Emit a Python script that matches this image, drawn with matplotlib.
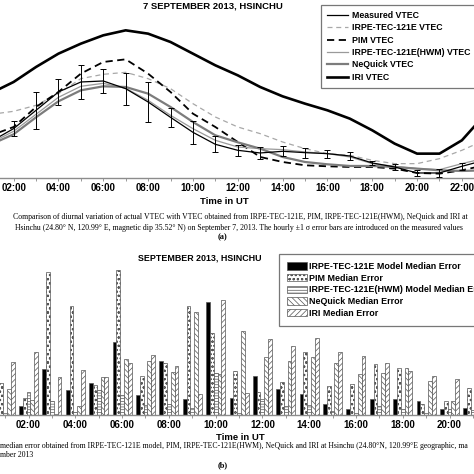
import numpy as np
import matplotlib
matplotlib.use("Agg")
import matplotlib.pyplot as plt
from matplotlib.patches import Patch
from matplotlib.ticker import FixedLocator

plt.rcParams['font.family'] = ['Liberation Sans', 'DejaVu Sans']
plt.rcParams['hatch.linewidth'] = 0.5

# ---- panel (a): diurnal VTEC, 7 September 2013 (TECU) ----
hours = np.arange(0, 25)
measured = [16.8, 16.1, 19.9, 25.4, 30.9, 33.9, 34.2, 31.9, 27.9, 23.3, 18.8, 15.2, 13.4,
            12.6, 13.1, 12.7, 12.4, 11.7, 9.6, 8.4, 6.6, 6.6, 8.6, 10.4, 12.8]
measured_err = [1.5, 1.5, 2.3, 5.5, 3.8, 5.0, 3.5, 4.8, 6.0, 2.8, 3.5, 2.4, 1.7,
                1.9, 1.5, 1.5, 1.2, 1.1, 0.6, 0.9, 0.9, 1.2, 1.1, 1.5, 1.5]
irpe = [24.0, 24.2, 25.1, 26.9, 30.4, 34.9, 36.2, 36.8, 34.9, 31.9, 27.4, 23.4, 20.4,
        18.4, 15.9, 13.9, 12.4, 11.9, 10.4, 9.4, 9.4, 10.9, 13.4, 16.4, 20.0]
pim = [17.5, 17.9, 20.4, 26.4, 30.9, 36.4, 39.9, 40.7, 36.4, 30.9, 24.4, 20.4, 15.9,
       11.4, 9.9, 8.9, 8.6, 8.4, 8.4, 7.9, 6.6, 6.4, 7.4, 8.9, 11.0]
hwm = [16.0, 15.7, 19.1, 24.2, 29.3, 32.6, 33.5, 32.0, 28.4, 23.9, 19.9, 16.4, 14.4,
       13.9, 13.6, 12.9, 12.4, 11.4, 9.4, 8.6, 7.9, 7.6, 9.4, 11.0, 12.8]
nequick = [15.0, 15.2, 18.2, 23.3, 28.1, 31.4, 32.6, 32.4, 30.4, 26.4, 21.9, 17.9, 15.8,
           13.9, 11.4, 9.9, 9.2, 8.7, 8.7, 8.4, 7.9, 7.4, 7.2, 7.4, 8.0]
iri = [29.5, 30.6, 33.9, 38.4, 42.4, 45.4, 47.9, 49.4, 48.4, 45.9, 42.4, 38.9, 35.9,
       32.4, 29.6, 27.4, 25.4, 22.9, 19.4, 15.4, 12.4, 12.4, 16.4, 23.9, 28.4]

# ---- panel (b): median error, September 2013 ----
err_hours = np.arange(1, 22)
err_irpe = [1.0, 0.9, 4.6, 2.5, 3.2, 7.3, 2.0, 5.4, 1.6, 11.3, 1.7, 3.9, 2.6, 2.1,
            1.1, 0.6, 1.6, 1.6, 1.4, 0.6, 0.7]
err_pim = [3.2, 1.7, 14.3, 10.9, 3.0, 14.5, 3.9, 5.2, 10.9, 8.2, 4.4, 2.3, 3.3, 6.3,
           2.9, 3.1, 5.1, 4.7, 1.1, 1.4, 2.7]
err_hwm = [0.2, 2.3, 1.4, 0.3, 2.5, 2.0, 1.0, 1.1, 0.7, 4.2, 0.2, 1.6, 0.9, 1.0,
           0.4, 0.2, 0.9, 0.6, 0.2, 0.6, 0.5]
err_nequick = [2.6, 1.5, 0.1, 0.9, 3.8, 5.6, 5.4, 4.3, 10.3, 4.1, 8.4, 5.8, 5.4, 5.8,
               5.2, 4.1, 4.2, 4.7, 3.4, 1.4, 2.0]
err_iri = [5.3, 6.3, 3.8, 4.5, 3.8, 5.2, 6.0, 4.9, 2.1, 11.5, 2.2, 7.6, 6.9, 7.7,
           6.3, 5.9, 5.2, 4.4, 3.9, 3.6, 3.0]


def fx(px):
    return px / 474.0


def fy(py):
    return 1 - py / 474.0


def hour_label(h):
    return "%02d:00" % h


fig = plt.figure(figsize=(4.74, 4.74), dpi=100)

# ---------------- top panel ----------------
ax1 = fig.add_axes([0, fy(178.3), 1, 178.3 / 474])
ax1.plot(hours, iri, color='black', lw=1.9, label='IRI VTEC', zorder=3)
ax1.plot(hours, irpe, color='#a8a8a8', lw=0.9, ls=(0, (4, 3)), label='IRPE-TEC-121E VTEC')
ax1.plot(hours, pim, color='black', lw=1.3, ls=(0, (4, 2.5)), label='PIM VTEC')
ax1.plot(hours, hwm, color='#9a9a9a', lw=0.9, label='IRPE-TEC-121E(HWM) VTEC')
ax1.plot(hours, nequick, color='#7c7c7c', lw=1.6, label='NeQuick VTEC')
ax1.plot(hours, measured, color='black', lw=0.9, label='Measured VTEC', zorder=4)
ax1.errorbar(hours, measured, yerr=measured_err, fmt='none', ecolor='black',
             elinewidth=0.7, capsize=2.2, capthick=0.7, zorder=4)
ax1.set_xlim(1.393, 22.54)
ax1.set_ylim(5, 58.5)

ax1.xaxis.set_major_locator(FixedLocator(range(2, 23, 2)))
ax1.xaxis.set_minor_locator(FixedLocator(range(1, 24)))
ax1.set_xticklabels([hour_label(h) for h in range(2, 23, 2)], fontsize=7, fontweight='bold')
ax1.tick_params(axis='x', which='both', direction='out', length=2, width=0.6,
                color='#888888', pad=1.5)
ax1.set_yticks([])
for s in ['top', 'left', 'right']:
    ax1.spines[s].set_visible(False)
ax1.spines['bottom'].set_color('#8c8c8c')
ax1.spines['bottom'].set_linewidth(1.0)

h, l = ax1.get_legend_handles_labels()
order = ['Measured VTEC', 'IRPE-TEC-121E VTEC', 'PIM VTEC', 'IRPE-TEC-121E(HWM) VTEC',
         'NeQuick VTEC', 'IRI VTEC']
hh = [h[l.index(o)] for o in order]
leg1 = ax1.legend(hh, order, loc='upper left', bbox_to_anchor=(fx(321), fy(5)),
                  bbox_transform=fig.transFigure, borderaxespad=0,
                  prop={'size': 6.3, 'weight': 'bold'}, handlelength=2.4,
                  handletextpad=0.4, labelspacing=0.38, borderpad=0.7,
                  fancybox=False, framealpha=1)
leg1.get_frame().set_edgecolor('#777777')
leg1.get_frame().set_linewidth(0.9)

fig.text(fx(213), fy(5.5), '7 SEPTEMBER 2013, HSINCHU', ha='center', va='center',
         fontsize=6.8, fontweight='bold')
fig.text(fx(224), fy(201.7), 'Time in UT', ha='center', va='center',
         fontsize=6.8, fontweight='bold')

cap_a1 = ("Comparison of diurnal variation of actual VTEC with VTEC obtained from "
          "IRPE-TEC-121E, PIM, IRPE-TEC-121E(HWM), NeQuick and IRI at")
cap_a2 = ("Hsinchu (24.80\u00b0 N, 120.99\u00b0 E, magnetic dip 35.52\u00b0 N) on September 7, "
          "2013. The hourly \u00b11 \u03c3 error bars are introduced on the measured values")
fig.text(fx(240.5), fy(216.7), cap_a1, ha='center', va='center', fontsize=5.6,
         family='Liberation Serif')
fig.text(fx(238.5), fy(227.7), cap_a2, ha='center', va='center', fontsize=5.6,
         family='Liberation Serif')
fig.text(fx(223), fy(237.5), '(a)', ha='center', va='center', fontsize=6,
         family='Liberation Serif', fontweight='bold')

# ---------------- bottom panel ----------------
ax2 = fig.add_axes([0, fy(415), 1, (415 - 245) / 474])
bw = 0.1625
series = [
    (err_irpe, 'IRPE-TEC-121E Model Median Error', 'black', None),
    (err_pim, 'PIM Median Error', 'white', 'oooo'),
    (err_hwm, 'IRPE-TEC-121E(HWM) Model Median Error', 'white', '------'),
    (err_nequick, 'NeQuick Median Error', 'white', '\\\\\\\\\\\\'),
    (err_iri, 'IRI Median Error', 'white', '//////'),
]
handles = []
for i, (vals, lab, fc, hatch) in enumerate(series):
    ax2.bar(err_hours + (i - 2) * bw, vals, width=bw, color=fc, edgecolor='#555555',
            linewidth=0.5, hatch=hatch, label=lab)
    handles.append(Patch(facecolor=fc, edgecolor='#555555', linewidth=0.5, hatch=hatch, label=lab))

ax2.set_xlim(0.7815, 21.047)
ax2.set_ylim(0, 17)
ax2.xaxis.set_major_locator(FixedLocator(range(2, 21, 2)))
ax2.xaxis.set_minor_locator(FixedLocator(range(1, 22)))
ax2.set_xticklabels([hour_label(h) for h in range(2, 21, 2)], fontsize=7, fontweight='bold')
ax2.tick_params(axis='x', which='both', direction='out', length=2, width=0.6,
                color='#888888', pad=1.5)
ax2.set_yticks([])
for s in ['top', 'left', 'right']:
    ax2.spines[s].set_visible(False)
ax2.spines['bottom'].set_color('#8c8c8c')
ax2.spines['bottom'].set_linewidth(1.0)

leg2 = ax2.legend(handles=handles, loc='upper left', bbox_to_anchor=(fx(279), fy(254)),
                  bbox_transform=fig.transFigure, borderaxespad=0,
                  prop={'size': 6.4, 'weight': 'bold'}, handlelength=2.3,
                  handleheight=0.9, handletextpad=0.2, labelspacing=0.3, borderpad=0.9,
                  fancybox=False, framealpha=1)
leg2.get_frame().set_edgecolor('#777777')
leg2.get_frame().set_linewidth(0.9)

fig.text(fx(200), fy(258.3), 'SEPTEMBER 2013, HSINCHU', ha='center', va='center',
         fontsize=6.4, fontweight='bold')
fig.text(fx(240), fy(437.3), 'Time in UT', ha='center', va='center',
         fontsize=6.8, fontweight='bold')

cap_b1 = ("median error obtained from IRPE-TEC-121E model, PIM, IRPE-TEC-121E(HWM), "
          "NeQuick and IRI at Hsinchu (24.80\u00b0N, 120.99\u00b0E geographic, ma")
fig.text(fx(0), fy(446), cap_b1, ha='left', va='center', fontsize=5.6,
         family='Liberation Serif')
fig.text(fx(0), fy(455), 'mber 2013', ha='left', va='center', fontsize=5.6,
         family='Liberation Serif')
fig.text(fx(223), fy(465), '(b)', ha='center', va='center', fontsize=6,
         family='Liberation Serif', fontweight='bold')

fig.savefig('out.png', dpi=100)
